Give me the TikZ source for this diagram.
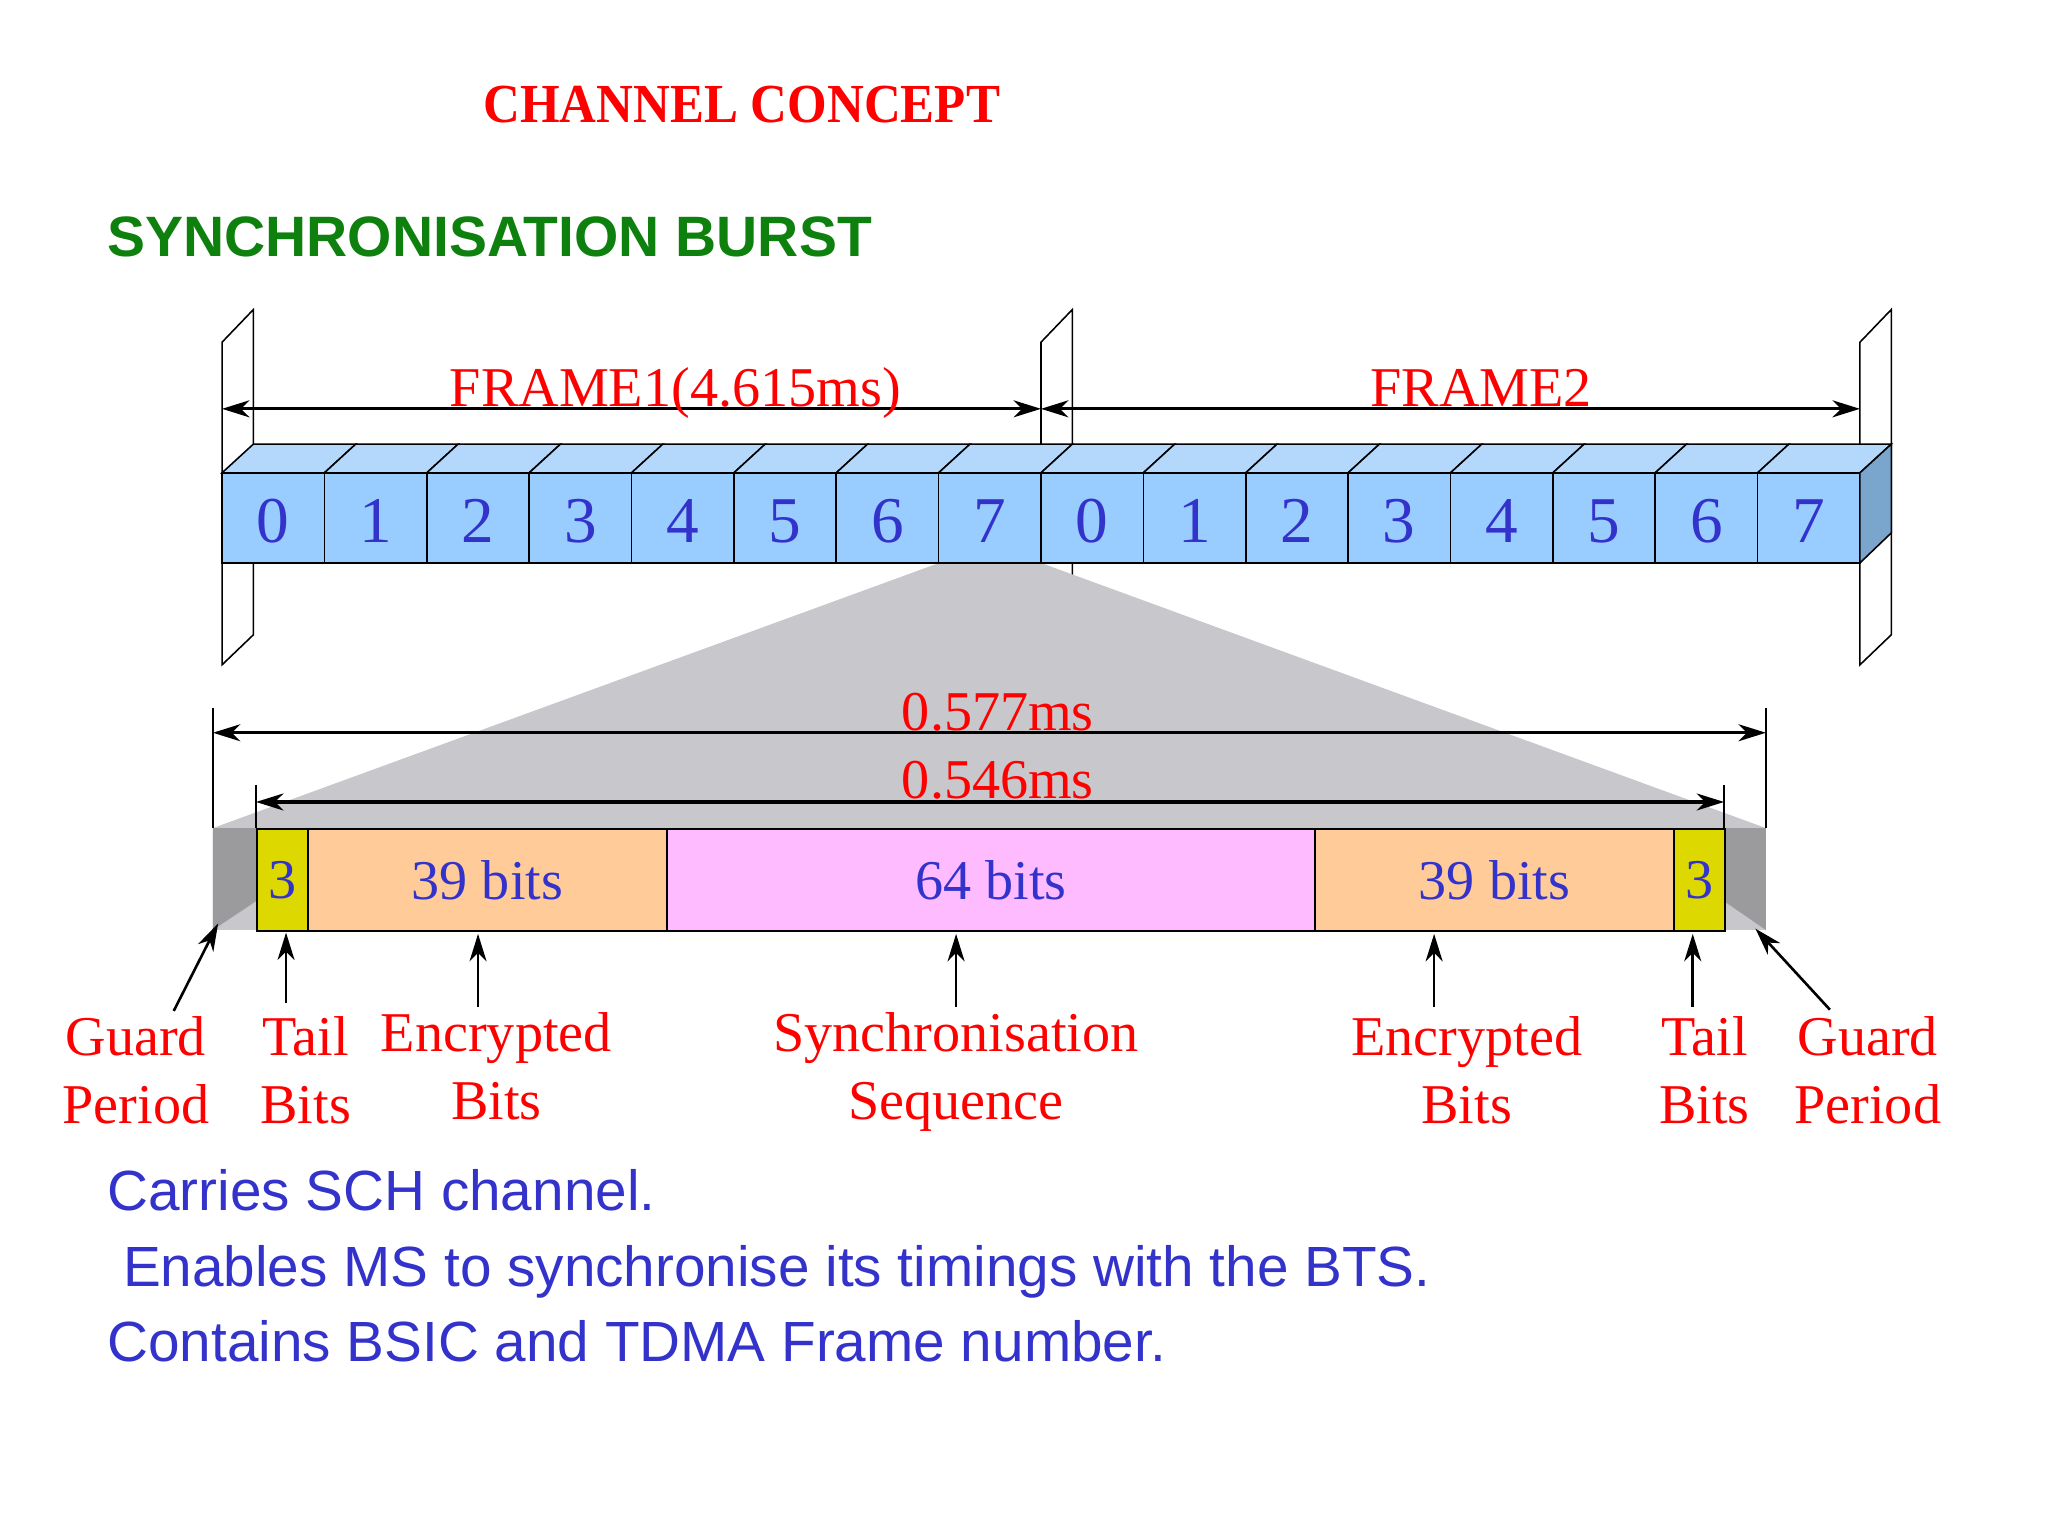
\documentclass[tikz,border=0pt]{standalone}
\usepackage{fontspec}
\setmainfont{Liberation Serif}
\newfontfamily\arialfont{Liberation Sans}
\usetikzlibrary{arrows.meta}
\definecolor{tred}{RGB}{255,0,0}
\definecolor{tblue}{RGB}{51,51,204}
\definecolor{tgreen}{RGB}{14,128,14}
\definecolor{slotfront}{RGB}{153,204,255}
\definecolor{slottop}{RGB}{180,216,252}
\definecolor{slotside}{RGB}{122,166,206}
\definecolor{trapgrey}{RGB}{200,200,204}
\definecolor{guardgrey}{RGB}{155,155,158}
\definecolor{tailyellow}{RGB}{221,217,0}
\definecolor{peach}{RGB}{255,204,153}
\definecolor{pinkseg}{RGB}{255,187,255}
\tikzset{
  mytip/.tip={Stealth[length=21pt,width=13pt,inset=6.5pt]},
  planeline/.style={draw=black, line width=1.2pt},
  boxline/.style={draw=black, line width=1.2pt},
  slotnum/.style={text=tblue, font=\fontsize{50}{60}\selectfont, inner sep=0pt},
  seg/.style={draw=black, line width=1.4pt, inner sep=0pt, minimum height=78pt, anchor=north west, text=tblue, font=\fontsize{43}{52}\selectfont},
  redlbl/.style={text=tred, font=\fontsize{43}{52}\selectfont, inner sep=0pt, anchor=base},
  dimarrow/.style={mytip-mytip, line width=2.4pt},
  lblarrow/.style={-mytip, line width=2pt},
  tick/.style={line width=1.2pt},
  bodytext/.style={text=tblue, font=\arialfont\fontsize{43.4}{52}\selectfont, inner sep=0pt, anchor=base west}
}
\begin{document}
\begin{tikzpicture}[x=1pt,y=-1pt]
\useasboundingbox (0,0) rectangle (1568,1176);
\fill[white] (0,0) rectangle (1568,1176);

% titles
\node[text=tred, font=\bfseries\fontsize{39}{47}\selectfont, inner sep=0pt, anchor=base west, yscale=1.08] (title) at (370,94) {CHANNEL CONCEPT};
\node[text=tgreen, font=\arialfont\bfseries\fontsize{43.6}{52}\selectfont, inner sep=0pt, anchor=base west] (heading) at (82,196) {SYNCHRONISATION BURST};

% planes
\draw[planeline] (170,262) -- (194,237) -- (194,486) -- (170,509) -- cycle;
\draw[planeline] (797,262) -- (821,237) -- (821,486) -- (797,509) -- cycle;
\draw[planeline] (1424,262) -- (1448,237) -- (1448,486) -- (1424,509) -- cycle;

% zoom trapezoid
\fill[trapgrey] (719,431) -- (797,431) -- (1352,634) -- (1352,712) -- (163,712) -- (163,634) -- cycle;
\fill[guardgrey] (163,634) -- (196,634) -- (196,690) -- (163,712) -- cycle;
\fill[guardgrey] (1320,634) -- (1352,634) -- (1352,712) -- (1320,690) -- cycle;

% frame box
\foreach \i in {0,...,15} {
  \pgfmathsetmacro\xa{170+\i*78.375}
  \pgfmathsetmacro\xb{170+(\i+1)*78.375}
  \draw[boxline, fill=slottop] (\xa,362) -- (\xa+24,340) -- (\xb+24,340) -- (\xb,362) -- cycle;
  \draw[boxline, fill=slotfront] (\xa,362) rectangle (\xb,431);
}
\draw[boxline, fill=slotside] (1424,362) -- (1448,340) -- (1448,408) -- (1424,431) -- cycle;
\foreach \i in {0,...,15} {
  \pgfmathsetmacro\xc{170+(\i+0.5)*78.375}
  \pgfmathtruncatemacro\d{mod(\i,8)}
  \node[slotnum] (n\i) at (\xc,399) {\d};
}

% frame dimension arrows
\coordinate (f0) at (170,313);
\coordinate (f1) at (797,313);
\coordinate (f2) at (1424,313);
\draw[dimarrow] (f0) -- (f1);
\draw[dimarrow] (f1) -- (f2);
\node[redlbl] (fr1) at (517,311) {FRAME1(4.615ms)};
\node[redlbl] (fr2) at (1134,311) {FRAME2};

% burst dimension lines
\coordinate (t1a) at (163,542); \coordinate (t1b) at (163,634);
\coordinate (t2a) at (1352,542); \coordinate (t2b) at (1352,634);
\coordinate (t3a) at (196,601); \coordinate (t3b) at (196,634);
\coordinate (t4a) at (1320,601); \coordinate (t4b) at (1320,634);
\draw[tick] (t1a) -- (t1b);
\draw[tick] (t2a) -- (t2b);
\draw[tick] (t3a) -- (t3b);
\draw[tick] (t4a) -- (t4b);
\coordinate (d1l) at (163,561); \coordinate (d1r) at (1352,561);
\coordinate (d2l) at (196,614); \coordinate (d2r) at (1320,614);
\draw[dimarrow] (d1l) -- (d1r);
\draw[dimarrow] (d2l) -- (d2r);
\node[redlbl] (ms577) at (764,559) {0.577ms};
\node[redlbl] (ms546) at (764,611) {0.546ms};

% burst bar
\node[seg, fill=tailyellow, minimum width=39pt] (tail1) at (196,634) {3};
\node[seg, fill=peach, minimum width=275pt] (enc1) at (235,634) {39 bits};
\node[seg, fill=pinkseg, minimum width=496pt] (sync) at (510,634) {64 bits};
\node[seg, fill=peach, minimum width=275pt] (enc2) at (1006,634) {39 bits};
\node[seg, fill=tailyellow, minimum width=39pt] (tail2) at (1281,634) {3};

% labels
\node[redlbl] (lg1) at (104,808) {\begin{tabular}[t]{@{}c@{}}Guard\\Period\end{tabular}};
\node[redlbl] (lt1) at (234,808) {\begin{tabular}[t]{@{}c@{}}Tail\\Bits\end{tabular}};
\node[redlbl] (le1) at (380,805) {\begin{tabular}[t]{@{}c@{}}Encrypted\\Bits\end{tabular}};
\node[redlbl] (ls) at (732,805) {\begin{tabular}[t]{@{}c@{}}Synchronisation\\Sequence\end{tabular}};
\node[redlbl] (le2) at (1123,808) {\begin{tabular}[t]{@{}c@{}}Encrypted\\Bits\end{tabular}};
\node[redlbl] (lt2) at (1305,808) {\begin{tabular}[t]{@{}c@{}}Tail\\Bits\end{tabular}};
\node[redlbl] (lg2) at (1430,808) {\begin{tabular}[t]{@{}c@{}}Guard\\Period\end{tabular}};

% label arrows
\coordinate (ag1s) at (133,774); \coordinate (ag1e) at (167,707);
\coordinate (at1s) at (219,768); \coordinate (at1e) at (219,714);
\coordinate (ae1s) at (366,771); \coordinate (ae1e) at (366,715);
\coordinate (ass) at (732,771); \coordinate (ase) at (732,715);
\coordinate (ae2s) at (1098,771); \coordinate (ae2e) at (1098,715);
\coordinate (at2s) at (1296,771); \coordinate (at2e) at (1296,715);
\coordinate (ag2s) at (1401,773); \coordinate (ag2e) at (1344,711);
\draw[lblarrow] (ag1s) -- (ag1e);
\draw[lblarrow] (at1s) -- (at1e);
\draw[lblarrow] (ae1s) -- (ae1e);
\draw[lblarrow] (ass) -- (ase);
\draw[lblarrow] (ae2s) -- (ae2e);
\draw[lblarrow] (at2s) -- (at2e);
\draw[lblarrow] (ag2s) -- (ag2e);

% body text
\node[bodytext] (b1) at (82,927) {Carries SCH channel.};
\node[bodytext] (b2) at (94,985) {Enables MS to synchronise its timings with the BTS.};
\node[bodytext] (b3) at (82,1042) {Contains BSIC and TDMA Frame number.};
\end{tikzpicture}
\end{document}
